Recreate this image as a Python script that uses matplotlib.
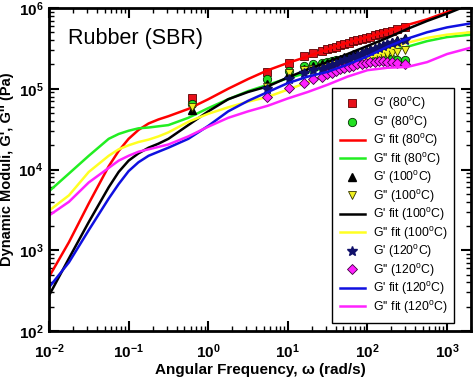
"""Dynamic moduli of SBR rubber: measured G', G'' and model fits."""
import matplotlib
matplotlib.use("Agg")
import matplotlib.pyplot as plt
from matplotlib.ticker import LogLocator, FuncFormatter
import numpy as np

plt.rcParams["font.family"] = ["Liberation Sans", "DejaVu Sans"]
plt.rcParams["mathtext.fontset"] = "custom"
plt.rcParams["mathtext.rm"] = "Liberation Sans"
plt.rcParams["mathtext.bf"] = "Liberation Sans:bold"

# measured frequencies (rad/s)
omega = [0.63, 5.4, 10.4, 16, 21, 27, 31, 35.5, 40, 45.5, 51.5, 58, 66, 75, 85,
         96, 108, 123, 139, 157, 178, 203, 237, 293]
nan = float("nan")

# measured moduli (Pa)
g1_80 = [77600, 162000, 209000, 251000, 275000, 295000, 309000, 324000, 331000,
         347000, 359000, 372000, 385000, 398000, 412000, 427000, 442000, 457000,
         473000, 490000, 507000, 525000, 550000, 589000]
g2_80 = [65300, 132000, 166000, 191000, 204000, 209000, 214000, 219000, 224000,
         229000, 234000, 237000, 240000, 245000, 248000, 251000, 251000, 251000,
         248000, 245000, 240000, 234000, 224000, 224000]
g1_100 = [55000, 115000, 158000, 178000, 191000, 200000, 209000, 219000, 226000,
          234000, 245000, 257000, 266000, 275000, 288000, 298000, 309000, 324000,
          335000, 347000, 363000, 376000, 398000, 427000]
g2_100 = [58900, 105000, 155000, 170000, 178000, 186000, 191000, 195000, 200000,
          204000, 211000, 219000, 224000, 229000, 234000, 240000, 245000, 251000,
          257000, 263000, 269000, 275000, 288000, 302000]
g1_120 = [nan, 98000, 132000, 158000, 170000, 178000, 186000, 195000, 204000,
          214000, 224000, 234000, 245000, 257000, 269000, 282000, 295000, 309000,
          324000, 339000, 355000, 367000, 380000, 398000]
g2_120 = [nan, 79400, 102000, 117000, 132000, 141000, 153000, 158000, 166000,
          174000, 182000, 186000, 193000, 200000, 204000, 209000, 214000, 216000,
          219000, 219000, 216000, 214000, 209000, 200000]

# fitted curves (Pa)
omega_fit = [0.01, 0.0178, 0.0316, 0.0562, 0.075, 0.1, 0.133, 0.178, 0.237,
             0.316, 0.562, 1, 1.78, 3.16, 5.62, 10, 17.8, 31.6, 56.2, 100, 178,
             316, 562, 1000, 2000]
fit1_80 = [468, 1259, 3802, 10960, 16980, 23990, 30900, 37150, 41690, 45710,
           56230, 74130, 100000, 131800, 169800, 208900, 251200, 309000, 371500,
           436500, 512900, 616600, 724400, 891300, 1148000]
fit2_80 = [5370, 8913, 14790, 23990, 27540, 30200, 32360, 33110, 34280, 35480,
           43650, 57540, 74130, 93330, 112200, 134900, 158500, 186200, 213800,
           251200, 288400, 331100, 389000, 436500, 467700]
fit1_100 = [275, 794, 2239, 6026, 9333, 12880, 15850, 18620, 20890, 23990,
            35480, 52480, 74130, 91200, 107200, 138000, 173800, 213800, 269200,
            338800, 426600, 549500, 691800, 851100, 1122000]
fit2_100 = [3090, 4786, 9333, 14790, 17780, 19950, 21880, 23440, 25700, 28840,
            38900, 48980, 58880, 69180, 79430, 97720, 120200, 151400, 190500,
            239900, 302000, 371500, 426600, 467700, 501200]
fit1_120 = [347, 708, 1778, 4365, 6607, 9550, 12300, 14790, 16600, 18620,
            23990, 34670, 52480, 70790, 91200, 117500, 141300, 162200, 199500,
            251200, 331100, 416900, 501200, 575400, 645700]
fit2_120 = [2692, 3981, 6918, 10470, 12880, 14790, 16600, 17780, 19050, 20420,
            25700, 33880, 43650, 52480, 61660, 75860, 91200, 112200, 141300,
            169800, 182000, 186200, 213800, 269200, 323600]

deg = r"$^\mathrm{o}$C)"

fig = plt.figure(figsize=(4.74, 3.87), dpi=100)
ax = fig.add_axes([0.1034, 0.1447, 0.8903, 0.8346])

ms = 6
lw = 1.8
ax.plot(omega, g1_80, "s", color="#e8101a", mec="#5a0000", mew=0.6, ms=ms, label="G' (80" + deg)
ax.plot(omega, g2_80, "o", color="#22e022", mec="#003300", mew=0.6, ms=ms, label="G'' (80" + deg)
ax.plot(omega_fit, fit1_80, "-", color="#ff0000", lw=lw, label="G' fit (80" + deg)
ax.plot(omega_fit, fit2_80, "-", color="#22ee22", lw=lw, label="G'' fit (80" + deg)
ax.plot(omega, g1_100, "^", color="black", ms=ms, label="G' (100" + deg)
ax.plot(omega, g2_100, "v", color="#f0f020", mec="#333300", mew=0.6, ms=ms, label="G'' (100" + deg)
ax.plot(omega_fit, fit1_100, "-", color="black", lw=lw, label="G' fit (100" + deg)
ax.plot(omega_fit, fit2_100, "-", color="#ffff22", lw=lw, label="G'' fit (100" + deg)
ax.plot(omega, g1_120, "*", color="#10106a", mec="#10106a", ms=ms + 1, label="G' (120" + deg)
ax.plot(omega, g2_120, "D", color="#ff20ff", mec="#400040", mew=0.6, ms=ms - 0.5, label="G'' (120" + deg)
ax.plot(omega_fit, fit1_120, "-", color="#1010e0", lw=lw, label="G' fit (120" + deg)
ax.plot(omega_fit, fit2_120, "-", color="#ff22ff", lw=lw, label="G'' fit (120" + deg)

ax.set_xscale("log")
ax.set_yscale("log")
ax.set_xlim(0.01, 2000)
ax.set_ylim(100, 1e6)
ax.xaxis.set_major_locator(LogLocator(base=10, numticks=10))
ax.yaxis.set_major_locator(LogLocator(base=10, numticks=10))
pow_fmt = FuncFormatter(lambda v, pos: r"$\mathbf{10^{%d}}$" % int(round(np.log10(v))))
ax.xaxis.set_major_formatter(pow_fmt)
ax.yaxis.set_major_formatter(pow_fmt)

for side in ax.spines.values():
    side.set_linewidth(2)
ax.tick_params(which="both", direction="in", top=True, right=True)
ax.tick_params(which="major", length=7, width=1.5, labelsize=11)
ax.tick_params(axis="x", which="major", pad=8)
ax.tick_params(axis="y", which="major", pad=4)
ax.tick_params(which="minor", length=3.5, width=1)

ax.set_xlabel("Angular Frequency, ω (rad/s)", fontsize=11, fontweight="bold")
ax.set_ylabel("Dynamic Moduli, G', G'' (Pa)", fontsize=10.5, fontweight="bold")
ax.xaxis.set_label_coords(0.5, -0.1)
ax.yaxis.set_label_coords(-0.084, 0.5)

ax.text(0.045, 0.905, "Rubber (SBR)", transform=ax.transAxes, fontsize=15.5, va="center")

leg = ax.legend(loc="upper left", bbox_to_anchor=(0.671, 0.752), fontsize=8.8,
                frameon=True, fancybox=False, edgecolor="black", framealpha=1,
                labelspacing=0.12, handlelength=2.1, handletextpad=0.6,
                borderpad=0.6, borderaxespad=0)
leg.get_frame().set_linewidth(1)

fig.savefig("out.png", dpi=100)
